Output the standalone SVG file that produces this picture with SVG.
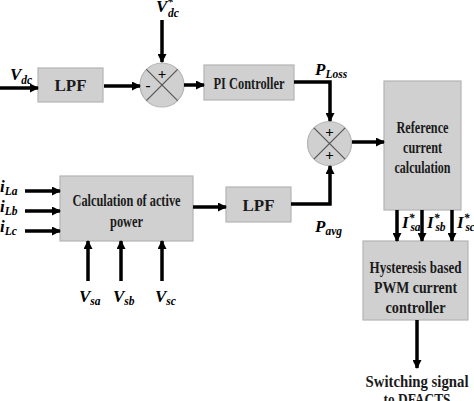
<svg xmlns="http://www.w3.org/2000/svg" width="474" height="401" viewBox="0 0 474 401">
<defs>
<marker id="ah" markerUnits="userSpaceOnUse" markerWidth="9" markerHeight="9" refX="8" refY="4.5" orient="auto">
<path d="M0,0 L9,4.5 L0,9 z" fill="#000"/>
</marker>
<style>
.box{fill:#d0d0d0;stroke:#b4b4b4;stroke-width:1.2}
.sum{fill:#d0d0d0;stroke:#b4b4b4;stroke-width:1.2}
.x{stroke:#555;stroke-width:1.2}
.t{font-family:"Liberation Serif",serif;font-weight:bold;font-size:17.5px;fill:#1a1a1a;text-anchor:middle}
.l{font-family:"Liberation Serif",serif;font-weight:bold;font-style:italic;font-size:17px;fill:#000}
.s{font-size:11.5px}
.c{fill:none;stroke:#000;stroke-width:3.5;marker-end:url(#ah)}
.sg{font-family:"Liberation Serif",serif;font-weight:bold;font-size:15px;fill:#000;text-anchor:middle}
</style>
</defs>
<rect width="474" height="401" fill="#fff"/>

<g id="lpf1"><rect class="box" x="38" y="68" width="65" height="34"/><text class="t" x="70.5" y="91" textLength="32" lengthAdjust="spacingAndGlyphs">LPF</text></g>
<g id="sum1"><circle class="sum" cx="162" cy="85" r="22"/><line class="x" x1="146.4" y1="69.4" x2="177.6" y2="100.6"/><line class="x" x1="177.6" y1="69.4" x2="146.4" y2="100.6"/><text class="sg" x="162" y="79">+</text><text class="sg" x="148" y="90">-</text></g>
<g id="pi"><rect class="box" x="204" y="65" width="90" height="35"/><text class="t" x="249" y="88.5" textLength="71" lengthAdjust="spacingAndGlyphs">PI Controller</text></g>
<g id="sum2"><circle class="sum" cx="329.5" cy="143.5" r="22"/><line class="x" x1="313.9" y1="127.9" x2="345.1" y2="159.1"/><line class="x" x1="345.1" y1="127.9" x2="313.9" y2="159.1"/><text class="sg" x="329.5" y="137">+</text><text class="sg" x="329.5" y="160">+</text></g>
<g id="ref"><rect class="box" x="384" y="81" width="77" height="129"/><text class="t" x="422.5" y="133" textLength="52" lengthAdjust="spacingAndGlyphs">Reference</text><text class="t" x="422.5" y="153" textLength="39" lengthAdjust="spacingAndGlyphs">current</text><text class="t" x="422.5" y="173" textLength="56" lengthAdjust="spacingAndGlyphs">calculation</text></g>
<g id="lpf2"><rect class="box" x="226" y="187" width="65" height="35"/><text class="t" x="258.5" y="210.5" textLength="32" lengthAdjust="spacingAndGlyphs">LPF</text></g>
<g id="calc"><rect class="box" x="60" y="176" width="133" height="65"/><text class="t" x="126.5" y="206" textLength="108" lengthAdjust="spacingAndGlyphs">Calculation of active</text><text class="t" x="126.5" y="227" textLength="33" lengthAdjust="spacingAndGlyphs">power</text></g>
<g id="hyst"><rect class="box" x="363" y="241" width="105" height="79"/><text class="t" x="415.5" y="273" textLength="92" lengthAdjust="spacingAndGlyphs">Hysteresis based</text><text class="t" x="415.5" y="293" textLength="83" lengthAdjust="spacingAndGlyphs">PWM current</text><text class="t" x="415.5" y="313" textLength="60" lengthAdjust="spacingAndGlyphs">controller</text></g>
<g id="out"><text class="t" x="417" y="387" textLength="103" lengthAdjust="spacingAndGlyphs">Switching signal</text><text class="t" x="417" y="405" textLength="67" lengthAdjust="spacingAndGlyphs">to DFACTS</text></g>

<g id="connectors">
<path class="c" d="M0,88 H38"/>
<path class="c" d="M104,86 H140"/>
<path class="c" d="M162,20 V62"/>
<path class="c" d="M184,85 H204"/>
<path class="c" d="M294,82 H330 V121"/>
<path class="c" d="M291,204 H330 V166"/>
<path class="c" d="M352,142 H384"/>
<path class="c" d="M193,207 H226"/>
<path class="c" d="M25,191 H60"/>
<path class="c" d="M25,211 H60"/>
<path class="c" d="M25,231 H60"/>
<path class="c" d="M88,281 V241"/>
<path class="c" d="M121,281 V241"/>
<path class="c" d="M162,281 V241"/>
<path class="c" d="M397,210 V241"/>
<path class="c" d="M422,210 V241"/>
<path class="c" d="M452,210 V241"/>
<path class="c" d="M417,320 V368"/>
</g>

<g id="labels">
<text class="l" x="10" y="80">V<tspan class="s" dy="4">dc</tspan></text>
<text class="l" x="156" y="12">V<tspan class="s" dy="-6">*</tspan><tspan class="s" dx="-5" dy="11">dc</tspan></text>
<text class="l" x="315" y="75">P<tspan class="s" dy="3">Loss</tspan></text>
<text class="l" x="315" y="232">P<tspan class="s" dy="3">avg</tspan></text>
<text class="l" x="0" y="192">i<tspan class="s" dy="3">La</tspan></text>
<text class="l" x="0" y="212">i<tspan class="s" dy="3">Lb</tspan></text>
<text class="l" x="0" y="232">i<tspan class="s" dy="3">Lc</tspan></text>
<text class="l" x="79" y="302">V<tspan class="s" dy="3">sa</tspan></text>
<text class="l" x="113" y="302">V<tspan class="s" dy="3">sb</tspan></text>
<text class="l" x="155" y="302">V<tspan class="s" dy="3">sc</tspan></text>
<text class="l" x="402" y="228">I<tspan class="s" dy="-6">*</tspan><tspan class="s" dx="-4" dy="9">sa</tspan></text>
<text class="l" x="427" y="228">I<tspan class="s" dy="-6">*</tspan><tspan class="s" dx="-4" dy="9">sb</tspan></text>
<text class="l" x="457" y="228">I<tspan class="s" dy="-6">*</tspan><tspan class="s" dx="-4" dy="9">sc</tspan></text>
</g>
</svg>
